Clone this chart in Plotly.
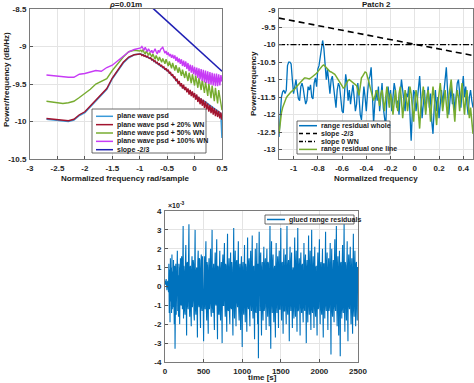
import numpy as np
import plotly.graph_objects as go

W, H = 474, 383

# ---------------- Panel 1 : rho = 0.01 m ----------------
p1_low_start, p1_low_step, p1_low_n = -2.7, 0.1, 18
p1_high_start, p1_high_step, p1_high_n = -0.98, 0.02, 75

psd_plane = [-9.97, -9.98, -9.99, -10.0, -10.0, -9.98, -9.92, -9.88, -9.80, -9.72, -9.65, -9.57, -9.43, -9.32, -9.22, -9.15, -9.11, -9.10,
             -9.10, -9.11, -9.11, -9.12, -9.13, -9.13, -9.14, -9.15, -9.15, -9.16,
             -9.17, -9.18, -9.19, -9.20, -9.21, -9.22, -9.23, -9.24, -9.25, -9.26,
             -9.27, -9.28, -9.29, -9.31, -9.32, -9.33, -9.35, -9.36, -9.38, -9.39,
             -9.41, -9.43, -9.44, -9.46, -9.48, -9.49, -9.51, -9.52, -9.54, -9.55,
             -9.56, -9.58, -9.59, -9.60, -9.61, -9.62, -9.63, -9.64, -9.65, -9.66,
             -9.67, -9.68, -9.69, -9.69, -9.70, -9.71, -9.72, -9.73, -9.73, -9.74,
             -9.75, -9.76, -9.77, -9.78, -9.79, -9.80, -9.81, -9.82, -9.83, -9.84,
             -9.85, -9.86, -9.88, -9.90, -10.22]
psd_wn20 = [-9.96, -9.97, -9.97, -9.98, -9.99, -9.97, -9.91, -9.87, -9.79, -9.71, -9.64, -9.56, -9.42, -9.31, -9.21, -9.14, -9.11, -9.10,
            -9.10, -9.12, -9.11, -9.13, -9.12, -9.14, -9.13, -9.15, -9.16, -9.15,
            -9.18, -9.17, -9.20, -9.19, -9.22, -9.21, -9.24, -9.23, -9.26, -9.25,
            -9.28, -9.27, -9.31, -9.29, -9.33, -9.31, -9.36, -9.34, -9.39, -9.37,
            -9.42, -9.40, -9.46, -9.43, -9.50, -9.46, -9.53, -9.49, -9.56, -9.51,
            -9.58, -9.54, -9.61, -9.56, -9.64, -9.58, -9.66, -9.60, -9.68, -9.62,
            -9.71, -9.64, -9.74, -9.67, -9.77, -9.69, -9.79, -9.71, -9.82, -9.73,
            -9.84, -9.76, -9.87, -9.78, -9.89, -9.80, -9.91, -9.82, -9.93, -9.84,
            -9.94, -9.86, -9.96, -9.88, -9.98]
psd_wn50 = [-9.73, -9.74, -9.75, -9.76, -9.75, -9.73, -9.68, -9.63, -9.57, -9.50, -9.46, -9.43, -9.32, -9.23, -9.14, -9.07, -9.05, -9.06,
            -9.05, -9.07, -9.04, -9.08, -9.10, -9.06, -9.09, -9.12, -9.08, -9.11,
            -9.14, -9.10, -9.13, -9.17, -9.12, -9.15, -9.19, -9.14, -9.17, -9.21,
            -9.16, -9.19, -9.23, -9.17, -9.21, -9.26, -9.20, -9.24, -9.29, -9.22,
            -9.27, -9.32, -9.25, -9.30, -9.35, -9.28, -9.33, -9.39, -9.31, -9.36,
            -9.42, -9.33, -9.38, -9.46, -9.35, -9.41, -9.49, -9.37, -9.44, -9.52,
            -9.39, -9.47, -9.55, -9.42, -9.50, -9.58, -9.44, -9.52, -9.62, -9.47,
            -9.55, -9.66, -9.49, -9.58, -9.69, -9.52, -9.61, -9.73, -9.55, -9.64,
            -9.76, -9.58, -9.67, -9.80, -9.85]
psd_wn100 = [-9.38, -9.39, -9.39, -9.40, -9.41, -9.41, -9.37, -9.36, -9.34, -9.32, -9.33, -9.28, -9.25, -9.19, -9.13, -9.07, -9.04, -9.02,
             -9.02, -9.00, -9.03, -9.05, -9.01, -9.04, -9.07, -9.03, -9.06, -9.08,
             -9.05, -9.09, -9.06, -9.03, -9.07, -9.10, -9.05, -9.08, -9.04, -9.02,
             -9.01, -9.05, -9.09, -9.06, -9.11, -9.08, -9.13, -9.10, -9.15, -9.11,
             -9.16, -9.12, -9.19, -9.14, -9.21, -9.16, -9.23, -9.17, -9.26, -9.19,
             -9.27, -9.20, -9.30, -9.22, -9.33, -9.24, -9.35, -9.25, -9.37, -9.27,
             -9.39, -9.28, -9.42, -9.29, -9.44, -9.30, -9.46, -9.31, -9.48, -9.32,
             -9.49, -9.33, -9.50, -9.34, -9.51, -9.35, -9.52, -9.36, -9.53, -9.36,
             -9.53, -9.37, -9.52, -9.38, -9.47]
slope1_x = [-1.0, 0.5]
slope1_y = [-8.33, -9.33]

p1_xticks = [-3, -2.5, -2, -1.5, -1, -0.5, 0, 0.5]
p1_xtext = ["-3", "-2.5", "-2", "-1.5", "-1", "-0.5", "0", "0.5"]
p1_yticks = [-10.5, -10, -9.5, -9, -8.5]
p1_ytext = ["-10.5", "-10", "-9.5", "-9", "-8.5"]

# ---------------- Panel 2 : Patch 2 ----------------
p2_start, p2_step = -1.12, 0.01
resid_whole = [-12.64, -12.1, -11.5, -11.35, -11.3, -11.4, -11.3, -10.6, -10.5, -10.5,
               -10.55, -11.0, -11.4, -11.2, -11.0, -11.3, -11.55, -11.6, -11.2, -11.1,
               -11.25, -11.5, -11.7, -11.6, -11.2, -11.3, -11.15, -11.5, -11.55, -11.1,
               -10.95, -11.2, -10.7, -10.6, -10.3, -10.05, -9.88, -10.1, -10.7, -11.0,
               -10.7, -11.1, -11.4, -11.0, -10.9, -11.2, -11.5, -11.8, -11.3, -11.1,
               -11.2, -11.6, -11.9, -11.95, -11.4, -10.85, -11.1, -11.6, -11.3, -11.7,
               -11.4, -11.15, -11.5, -11.9, -11.7, -11.1, -11.5, -12.0, -12.15, -11.6,
               -11.2, -11.5, -11.9, -11.4, -11.0, -10.9, -10.65, -11.4, -12.25, -11.7,
               -11.3, -11.6, -11.2, -11.9, -11.4, -11.1, -11.8, -12.1, -12.35, -11.5,
               -11.2, -11.6, -11.3, -11.9, -11.5, -11.1, -11.3, -11.8, -11.6, -12.0,
               -11.4, -11.0, -11.3, -11.7, -11.9, -11.4, -11.5, -11.2, -12.2, -12.75,
               -11.9, -11.3, -11.4, -11.9, -11.6, -11.2, -10.9, -11.5, -12.1, -11.7,
               -11.3, -11.9, -11.5, -11.2, -11.8, -11.4, -12.2, -12.55, -11.8, -11.3,
               -11.9, -11.5, -12.1, -11.6, -11.3, -11.7, -11.4, -11.0, -10.65, -11.3,
               -12.0, -11.6, -11.2, -11.7, -11.4, -11.9, -11.5, -11.1, -11.0, -11.4,
               -11.8, -11.3, -10.9, -11.5, -11.2, -11.7, -12.0, -11.5, -11.3, -11.6,
               -11.8]
resid_line = [-12.55, -12.2, -11.95, -11.8, -11.7, -11.6, -11.52, -11.47, -11.42, -11.38,
              -11.35, -11.32, -11.3, -11.27, -11.22, -11.18, -11.15, -11.1, -11.05, -11.0,
              -10.97, -10.95, -10.95, -10.96, -10.97, -10.98, -10.96, -10.93, -10.9, -10.88,
              -10.86, -10.82, -10.77, -10.72, -10.68, -10.63, -10.6, -10.58, -10.62, -10.66,
              -10.7, -10.74, -10.77, -10.78, -10.8, -10.82, -10.85, -10.9, -10.95, -11.0,
              -11.06, -11.12, -11.18, -11.24, -11.22, -11.15, -11.08, -11.02, -11.0, -11.03,
              -11.07, -11.1, -11.13, -11.15, -11.17, -11.3, -11.45, -11.2, -10.95, -10.9,
              -10.82, -10.78, -10.8, -10.9, -11.05, -11.2, -11.35, -11.45, -11.6, -11.5,
              -11.35, -11.3, -11.55, -11.75, -11.4, -11.3, -11.6, -11.9, -11.5, -11.2,
              -11.5, -11.8, -11.4, -11.6, -12.0, -11.5, -11.3, -11.7, -11.9, -11.4,
              -11.2, -11.6, -12.1, -11.7, -11.3, -11.5, -11.9, -11.6, -11.2, -11.4,
              -11.8, -12.2, -11.7, -11.3, -11.5, -11.9, -12.4, -11.8, -11.4, -11.2,
              -11.6, -12.0, -11.5, -11.3, -11.7, -12.2, -11.6, -11.2, -11.5, -11.9,
              -12.3, -11.7, -11.3, -11.1, -11.5, -11.9, -11.6, -11.3, -11.7, -12.1,
              -11.5, -11.2, -11.0, -11.4, -11.8, -12.2, -11.6, -11.3, -11.5, -11.9,
              -11.4, -11.1, -11.6, -12.0, -11.5, -11.3, -11.7, -12.1, -11.8, -12.3,
              -12.55]
slope2_x = [-1.12, 0.48]
slope2_y = [-9.24, -10.31]
wn2_x = [-1.12, 0.48]
wn2_y = [-10.0, -10.0]

p2_xticks = [-1, -0.8, -0.6, -0.4, -0.2, 0, 0.2, 0.4]
p2_xtext = ["-1", "-0.8", "-0.6", "-0.4", "-0.2", "0", "0.2", "0.4"]
p2_yticks = [-13, -12.5, -12, -11.5, -11, -10.5, -10, -9.5, -9]
p2_ytext = ["-13", "-12.5", "-12", "-11.5", "-11", "-10.5", "-10", "-9.5", "-9"]

# ---------------- Panel 3 : glued range residuals (units of 1e-3) ----------------
t_start, t_step = 0, 5
glued = [0.3, 0.1, 0.2, 0.4, 0.0, -0.2, 0.1, 0.3, 0.2, -0.3,
         1.2, -1.4, 0.9, -1.9, 1.5, -0.8, 1.0, -1.4, 1.7, -1.2,
         0.8, -1.1, 1.4, -0.7, -2.0, 1.1, -3.3, 0.9, 1.2, -1.5,
         0.7, -0.8, 1.9, -1.3, 0.6, -1.6, 1.2, 0.9, -2.0, 1.3,
         1.5, -0.9, -1.0, 1.6, 1.3, -1.2, 0.9, 3.2, -1.7, 1.1,
         0.8, -1.3, -1.5, 1.4, 2.2, -0.9, -2.6, 1.2, 1.3, -1.0,
         -1.2, 1.5, 3.3, -0.8, -1.6, 1.0, 1.1, -1.3, -2.1, 0.9,
         1.6, -1.1, -0.7, 1.4, 1.2, -1.5, -1.8, 1.1, 3.0, -1.2,
         -1.5, 0.8, 1.0, -1.2, -2.7, 1.3, 1.9, -0.9, -1.1, 1.5,
         1.4, -1.3, -2.2, 0.9, 1.7, -1.1, -1.3, 1.6, 0.9, -1.0,
         -2.9, 1.2, 1.6, -0.8, -1.2, 1.4, 2.4, -1.0, -1.8, 1.3,
         1.1, -1.4, -2.5, 0.9, 1.5, -1.2, -0.9, 1.1, 2.0, -1.3,
         -1.6, 1.2, 3.0, -1.1, -1.4, 0.8, 1.2, -1.5, -2.3, 1.0,
         1.8, -0.9, -1.0, 1.3, 2.5, -1.2, -2.8, 1.1, 1.0, -1.4,
         -1.5, 1.0, 1.9, -1.3, -1.8, 0.9, 1.3, -1.1, -3.0, 1.2,
         1.7, -1.0, -1.0, 1.4, 2.3, -0.8, -1.6, 1.2, 1.1, -1.3,
         -2.4, 1.1, 2.8, -1.2, -1.3, 0.9, 1.5, -1.4, -2.0, 1.0,
         1.8, -1.1, -1.2, 1.3, 0.9, -1.5, -2.6, 1.0, 3.1, -0.9,
         -1.7, 1.2, 1.9, -1.0, -2.1, 1.3, 1.4, -0.8, -1.1, 1.1,
         2.4, -1.2, -1.8, 0.9, 1.2, -1.3, -2.3, 1.0, 1.6, -1.1,
         -3.2, 1.0, 1.3, -1.2, -1.5, 0.8, 2.2, -1.1, -1.9, 1.2,
         1.0, -1.3, -2.4, 0.9, 2.6, -1.0, -1.2, 1.3, 1.5, -1.4,
         -2.1, 1.1, 1.9, -0.9, -1.3, 1.2, 2.7, -1.1, -1.7, 1.0,
         1.1, -1.2, -2.8, 0.8, 2.0, -1.3, -1.4, 1.0, 2.3, -1.0,
         -2.0, 1.2, -3.8, 0.9, 2.9, -1.0, -1.3, 1.4, 1.8, -1.1,
         -2.6, 1.0, 1.3, -1.2, -1.8, 0.8, 2.1, -1.3, -1.1, 1.2,
         1.5, -1.0, -2.3, 1.1, 2.0, -0.9, -1.6, 1.3, 1.2, -1.1,
         -2.1, 0.9, 3.2, -1.2, -3.3, 1.0, 2.4, -0.8, -1.4, 1.3,
         1.7, -1.1, -1.9, 0.9, 1.1, -1.3, -2.7, 1.2, 2.3, -1.0,
         -1.4, 1.1, 1.6, -0.9, -2.2, 1.3, 1.9, -1.2, -1.2, 0.9,
         3.1, -1.0, -1.8, 1.2, 1.3, -0.8, -2.5, 1.1, 2.0, -1.3,
         -1.3, 1.0, 1.7, -1.1, -2.0, 0.9, 3.2, -1.2, -1.5, 1.1,
         1.4, -1.0, -2.9, 1.2, 2.1, -0.9, -1.3, 1.3, 1.8, -1.1,
         -2.2, 0.8, 1.0, -1.2, -1.7, 1.1, 2.6, -1.0, -1.6, 1.2,
         1.9, -1.1, -2.4, 0.9, 3.1, -1.3, -1.2, 1.0, 1.5, -0.9,
         -2.6, 1.2, 1.8, -1.0, -1.4, 1.1, 1.2, -1.2, -1.9, 0.8,
         2.3, -1.1, -1.3, 1.3, 1.7, -0.9, -3.0, 1.0, 1.4, -1.2,
         -1.9, 1.1, 2.7, -1.0, -1.5, 1.2, 1.9, -1.3, -2.3, 0.9,
         3.0, -1.2, -1.4, 0.9, 1.6, -1.0, -2.2, 1.2, 2.1, -1.1,
         -1.6, 1.0, 1.1, -1.3, -2.6, 0.8, 1.8, -1.2, -1.1, 1.3,
         2.5, -0.9, -2.0, 1.1, 1.3, -1.2, -1.5, 1.0, 2.0, -1.3,
         -2.7, 1.2, 1.2, -0.9, -1.7, 1.1, 2.9, -1.0, -1.3, 1.2,
         1.8, -1.1, -2.3, 0.9, 1.5, -1.3, -1.1, 1.2, 2.3, -1.0,
         -3.6, 1.1, 2.0, -1.2, -1.6, 0.8, 1.4, -1.1, -1.9, 1.3,
         2.5, -1.0, -1.3, 1.2, 3.2, -0.9, -2.1, 1.1, 1.6, -1.2,
         -2.6, 1.0, 1.9, -1.1, -3.7, 1.2, 1.3, -0.9, -1.7, 1.1,
         2.2, -1.2, -1.4, 1.0, 3.3, -1.1, -2.4, 1.3, 1.1, -1.0,
         -1.8, 0.9, 2.4, -1.2, -2.9, 1.1, 1.7, -1.0, -1.2, 1.2,
         2.1, -1.1, -2.0, 1.0, 1.5, -1.3, -2.5, 0.9, 2.8, -1.2,
         -1.6, 1.1, 1.9, -1.0, -2.1, 1.2, 1.3, -1.1, -1.8, 1.0,
         1.0]

p3_xticks = [0, 500, 1000, 1500, 2000, 2500]
p3_xtext = ["0", "500", "1000", "1500", "2000", "2500"]
p3_yticks = [-4, -3, -2, -1, 0, 1, 2, 3, 4]
p3_ytext = ["-4", "-3", "-2", "-1", "0", "1", "2", "3", "4"]

# ---------------- derived x grids ----------------
x1 = np.concatenate([np.round(p1_low_start + p1_low_step * np.arange(p1_low_n), 3),
                     np.round(p1_high_start + p1_high_step * np.arange(p1_high_n), 3)])
x2 = np.round(p2_start + p2_step * np.arange(len(resid_whole)), 3)
x2g = np.round(p2_start + p2_step * np.arange(len(resid_line)), 3)
t3 = t_start + t_step * np.arange(len(glued))

# ---------------- styles ----------------
C_BLUE_L = "#3a9ad9"
C_BLUE = "#0072BD"
C_RED = "#A2142F"
C_GREEN = "#77AC30"
C_PURPLE = "#C73BF5"
C_NAVY = "#1F1FB4"
FONT = "Liberation Sans, Arial, sans-serif"

fig = go.Figure()

p1_series = [
    ("plane wave psd", psd_plane, C_BLUE_L, 1.6),
    ("plane wave psd + 20% WN", psd_wn20, C_RED, 1.4),
    ("plane wave psd + 50% WN", psd_wn50, C_GREEN, 1.4),
    ("plane wave psd + 100% WN", psd_wn100, C_PURPLE, 1.4),
]
for name, ys, col, lw in p1_series:
    fig.add_trace(go.Scatter(x=x1, y=ys, mode="lines", name=name,
                             line=dict(color=col, width=lw), xaxis="x", yaxis="y",
                             showlegend=False))
fig.add_trace(go.Scatter(x=slope1_x, y=slope1_y, mode="lines", name="slope -2/3",
                         line=dict(color=C_NAVY, width=1.6), xaxis="x", yaxis="y",
                         showlegend=False))

fig.add_trace(go.Scatter(x=x2, y=resid_whole, mode="lines", name="range residual whole",
                         line=dict(color=C_BLUE, width=1.3), xaxis="x2", yaxis="y2",
                         showlegend=False))
fig.add_trace(go.Scatter(x=slope2_x, y=slope2_y, mode="lines", name="slope -2/3",
                         line=dict(color="black", width=1.6, dash="6px,4px"), xaxis="x2",
                         yaxis="y2", showlegend=False))
fig.add_trace(go.Scatter(x=wn2_x, y=wn2_y, mode="lines", name="slope 0 WN",
                         line=dict(color="black", width=1.4, dash="6px,2px,1.5px,2px"),
                         xaxis="x2", yaxis="y2", showlegend=False))
fig.add_trace(go.Scatter(x=x2g, y=resid_line, mode="lines", name="range residual one line",
                         line=dict(color=C_GREEN, width=1.5), xaxis="x2", yaxis="y2",
                         showlegend=False))

fig.add_trace(go.Scatter(x=t3, y=glued, mode="lines", name="glued range residuals",
                         line=dict(color=C_BLUE, width=1.1), xaxis="x3", yaxis="y3",
                         showlegend=False))


def px(x):
    return x / W


def py(y):
    return 1 - y / H


tickfont = dict(family=FONT, size=8, color="#262626", weight="bold")


def axis(domain, rng, tv, tt, anchor):
    return dict(domain=domain, range=rng, tickvals=tv, ticktext=tt, anchor=anchor,
                showline=True, mirror=True, linecolor="#7a7a7a", linewidth=1,
                ticks="inside", ticklen=3, tickcolor="#555", tickwidth=1,
                showgrid=True, gridcolor="#e4e4e4", gridwidth=1, zeroline=False,
                tickfont=tickfont, ticklabelstandoff=1, automargin=False)


lay = dict(
    width=W, height=H, margin=dict(l=0, r=0, t=0, b=0),
    paper_bgcolor="white", plot_bgcolor="white", showlegend=False,
    xaxis=axis([px(30), px(222)], [-3, 0.5], p1_xticks, p1_xtext, "y"),
    yaxis=axis([py(159), py(9)], [-10.5, -8.5], p1_yticks, p1_ytext, "x"),
    xaxis2=axis([px(279), px(473)], [-1.12, 0.48], p2_xticks, p2_xtext, "y2"),
    yaxis2=axis([py(159), py(9)], [-13.27, -8.98], p2_yticks, p2_ytext, "x2"),
    xaxis3=axis([px(165), px(358)], [0, 2500], p3_xticks, p3_xtext, "y3"),
    yaxis3=axis([py(362), py(211)], [-4, 4], p3_yticks, p3_ytext, "x3"),
)
fig.update_layout(**lay)

ann = []
shapes = []


def text(x, y, s, size=8, xanchor="center", yanchor="middle", angle=0):
    ann.append(dict(x=px(x), y=py(y), xref="paper", yref="paper", text=s, showarrow=False,
                    xanchor=xanchor, yanchor=yanchor, textangle=angle,
                    font=dict(family=FONT, size=size, color="#1a1a1a", weight="bold")))


# titles and axis labels
text(126, 4, "<i>ρ</i>=0.01m", size=8)
text(376, 4, "Patch 2", size=8)
text(126, 178, "Normalized frequency rad/sample", size=8)
text(376, 178, "Normalized frequency", size=8)
text(262, 377, "time [s]", size=8)
text(7, 80, "Power/frequency (dB/Hz)", size=8, angle=-90)
text(253, 84, "Power/frequency", size=8, angle=-90)
text(166, 205, "×10<sup>-3</sup>", size=7, xanchor="left")


def legend(x0, y0, w, h, row0, dy, line_x0, line_x1, entries):
    shapes.append(dict(type="rect", xref="paper", yref="paper", x0=px(x0), x1=px(x0 + w),
                       y0=py(y0 + h), y1=py(y0), line=dict(color="#444", width=0.8),
                       fillcolor="white", layer="above"))
    for i, (name, col, dash, lw) in enumerate(entries):
        yc = row0 + dy * i
        shapes.append(dict(type="line", xref="paper", yref="paper", x0=px(line_x0), x1=px(line_x1),
                           y0=py(yc), y1=py(yc), line=dict(color=col, width=lw, dash=dash),
                           layer="above"))
        text(line_x1 + 2, yc, name, size=7, xanchor="left")


legend(92, 109, 114, 44, 116.3, 8.35, 96, 113,
       [(n, c, "solid", 1.5) for n, _, c, _ in p1_series] + [("slope -2/3", C_NAVY, "solid", 1.5)])
legend(297, 121, 93, 33, 125.7, 7.9, 299, 317,
       [("range residual whole", C_BLUE, "solid", 1.5),
        ("slope -2/3", "black", "4px,3px", 1.5),
        ("slope 0 WN", "black", "4px,2px,1px,2px", 1.3),
        ("range residual one line", C_GREEN, "solid", 1.5)])
legend(265, 215, 89, 9, 219.5, 0, 267, 285,
       [("glued range residuals", C_BLUE, "solid", 1.5)])

fig.update_layout(annotations=ann, shapes=shapes)
fig.write_html("out.html", config={"displayModeBar": False},
               post_script="document.body.style.margin='0px';")
